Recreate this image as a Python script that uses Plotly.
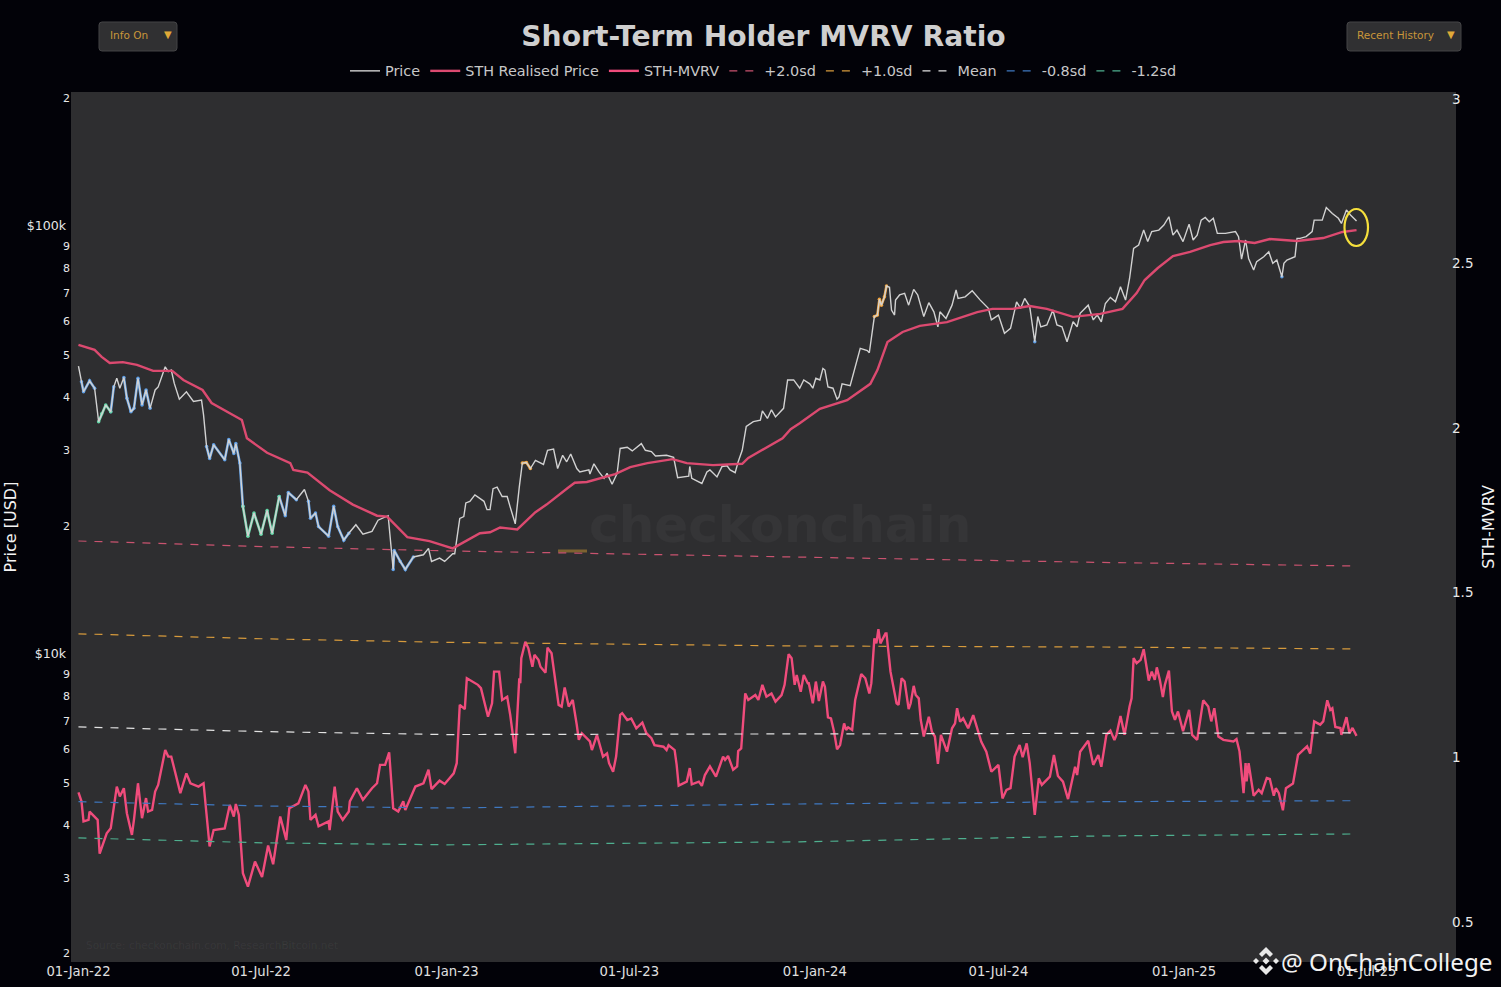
import pandas as pd
import plotly.graph_objects as go

START = pd.Timestamp("2022-01-01")

# STH-MVRV: day offset from 01-Jan-22 and ratio
mvrv_days = [0,3,5,10,11,16,19,21,25,28,32,35,38,41,45,48,53,55,59,63,67,69,73,76,79,86,89,92,96,101,107,111,119,124,130,134,145,150,154,156,159,163,168,175,182,188,193,200,206,209,218,225,228,230,235,238,248,249,254,257,262,268,269,276,282,291,296,299,304,308,312,317,322,324,334,342,347,350,358,363,372,375,378,383,385,396,399,406,410,412,417,420,425,428,433,437,
438,439,443,446,450,452,456,458,463,465,469,471,476,479,482,486,490,494,496,499,507,509,514,520,524,526,530,533,537,539,544,548,553,559,563,568,571,580,583,585,591,593,595,603,606,608,615,618,621,626,632,639,641,644,649,653,654,657,661,664,671,674,678,682,687,691,697,700,704,707,710,712,716,719,723,
724,728,731,734,738,740,743,746,749,752,755,759,761,763,767,770,776,780,784,786,789,791,793,795,800,801,805,809,811,813,816,819,823,825,828,830,833,835,838,843,846,849,852,855,861,866,869,871,874,877,882,887,892,895,900,905,912,916,920,924,928,933,936,940,943,948,952,955,963,967,971,976,981,988,990,993,1001,1006,1011,1014,1019,1023,1027,1029,1033,1037,
1042,1044,1046,1049,1053,1056,1061,1064,1067,1069,1072,1075,1077,1081,1084,1087,1090,1095,1101,1104,1109,1115,1120,1123,1126,1130,1135,1145,1148,1151,1155,1157,1158,1160,1165,1170,1173,1178,1181,1185,1187,1190,1194,1197,1204,1209,1218,1221,1225,1231,1234,1238,1241,1243,1246,1251,1252,1257,1260,1263,1267]
mvrv_values = [0.893,0.866,0.805,0.810,0.835,0.820,0.810,0.707,0.739,0.769,0.784,0.850,0.911,0.881,0.906,0.830,0.764,0.810,0.921,0.815,0.876,0.835,0.840,0.896,0.916,1.022,1.002,1.002,0.951,0.891,0.951,0.921,0.911,0.921,0.729,0.779,0.784,0.855,0.820,0.858,0.825,0.648,0.607,0.683,0.636,0.732,0.675,0.820,0.749,0.845,0.860,0.916,0.896,0.810,0.825,0.790,0.805,0.779,0.911,0.835,0.810,0.835,0.866,0.906,0.871,0.906,0.921,0.977,0.977,1.015,0.845,0.835,0.866,0.840,0.911,0.921,0.962,0.903,0.929,0.919,0.951,0.982,1.159,1.146,1.240,1.220,1.210,1.123,1.164,1.260,1.260,1.174,1.184,1.129,1.012,1.240,
1.225,1.301,1.351,1.331,1.275,1.311,1.296,1.275,1.257,1.333,1.316,1.275,1.159,1.154,1.212,1.154,1.174,1.098,1.053,1.073,1.048,1.022,1.068,1.002,1.012,0.982,0.956,1.002,1.129,1.134,1.113,1.118,1.088,1.105,1.073,1.058,1.037,1.032,1.022,1.037,1.022,0.977,0.914,0.926,0.967,0.918,0.926,0.913,0.946,0.972,0.941,1.002,0.992,1.004,0.962,0.972,1.019,1.027,1.194,1.174,1.189,1.174,1.220,1.184,1.194,1.169,1.189,1.220,1.313,1.301,1.220,1.250,1.199,1.250,1.225,
1.225,1.164,1.230,1.171,1.230,1.214,1.121,1.118,1.078,1.024,1.037,1.103,1.083,1.091,1.083,1.174,1.253,1.240,1.194,1.225,1.361,1.346,1.389,1.346,1.376,1.376,1.260,1.199,1.164,1.159,1.240,1.230,1.146,1.164,1.217,1.189,1.179,1.113,1.063,1.123,1.078,1.063,0.980,1.068,1.017,1.088,1.103,1.149,1.108,1.118,1.088,1.128,1.078,1.047,1.017,0.956,0.977,0.875,0.901,0.906,1.002,1.037,1.000,1.042,0.982,0.825,0.936,0.916,0.941,1.007,0.943,0.926,0.873,0.971,0.946,1.017,1.050,0.977,1.007,0.971,1.068,1.081,1.052,1.068,1.125,1.068,
1.154,1.179,1.301,1.286,1.296,1.328,1.233,1.260,1.235,1.273,1.235,1.183,1.220,1.263,1.139,1.114,1.139,1.079,1.144,1.068,1.053,1.173,1.154,1.109,1.149,1.063,1.053,1.048,1.055,1.018,0.891,0.982,0.927,0.982,0.883,0.901,0.891,0.937,0.934,0.883,0.906,0.891,0.839,0.906,0.920,1.007,1.033,1.011,1.109,1.099,1.109,1.173,1.144,1.149,1.092,1.089,1.068,1.122,1.073,1.089,1.065]

# STH realised price in USD thousands
realised_days = [0,16,23,31,44,58,74,93,104,123,132,147,162,167,187,210,213,227,249,272,296,306,326,348,358,371,398,408,418,435,453,464,485,492,504,532,547,564,589,603,629,658,664,698,706,715,735,762,785,792,802,817,834,861,891,906,926,943,960,986,1013,1035,1049,1057,1070,1085,1102,1122,1135,1150,1166,1181,1208,1234,1253,1267]
realised_k = [52.9,51.5,49.6,48.0,48.2,47.5,46.0,46.0,43.8,41.5,38.7,36.9,35.3,32.0,29.6,28.0,27.0,26.6,24.2,22.4,21.1,21.0,18.8,18.4,18.1,17.7,19.2,19.3,19.8,19.6,21.5,22.4,24.5,25.2,25.3,26.4,27.4,28.0,28.6,28.0,27.7,27.9,28.8,32.0,33.6,34.7,37.5,39.3,42.9,46.2,53.7,56.7,58.6,59.8,63.1,64.2,64.2,65.2,64.2,61.5,62.5,64.2,69.9,75.0,80.0,85.3,87.2,90.5,92.0,92.5,91.5,93.5,92.5,94.0,97.1,98.1]

# Price in USD thousands
price_days = [0,3,5,11,16,20,23,27,32,35,38,41,45,48,52,55,59,63,67,71,76,79,86,89,92,95,100,107,114,122,124,127,130,134,145,149,154,156,160,163,168,174,181,187,192,199,205,208,216,224,228,230,235,238,248,253,257,263,268,275,282,291,297,307,312,313,319,324,332,342,347,350,358,363,371,373,378,382,384,388,393,398,402,405,408,411,415,420,425,428,433,437,440,444,448,453,461,465,471,475,480,484,488,494,497,506,507,511,516,521,524,529,534,537,544,549,558,562,568,572,583,590,594,605,606,608,618,623,626,633,638,643,646,651,654,658,662,669,676,678,683,687,691,699,703,709,715,719,725,728,731,735,738,740,743,748,752,754,757,765,775,782,784,789,792,794,796,799,801,804,806,809,810,814,819,823,828,832,838,843,848,852,854,860,866,870,872,879,886,894,902,905,912,918,924,930,934,938,943,948,951,954,960,966,970,975,980,986,990,993,1001,1006,1010,1014,1018,1023,1028,1033,1038,1042,1046,1051,1056,1060,1064,1071,1076,1081,1085,1089,1095,1101,1105,1109,1113,1117,1121,1125,1129,1137,1147,1150,1153,1157,1160,1165,1168,1175,1180,1184,1188,1193,1195,1198,1206,1208,1211,1217,1223,1225,1233,1237,1243,1249,1252,1257,1261,1267]
price_k = [47.2,43.4,41.1,43.6,41.9,35.0,36.5,38.3,36.9,42.2,44.2,41.9,44.4,39.7,36.9,37.6,44.2,38.3,41.5,37.6,41.5,42.2,47.0,45.8,46.2,43.0,39.5,41.1,39.0,39.3,36.3,30.6,28.7,30.9,28.5,31.8,29.5,31.1,28.0,22.2,18.9,21.4,19.1,21.7,19.2,23.4,21.1,23.9,23.0,24.3,22.8,20.8,21.4,19.9,18.9,22.2,19.9,18.5,19.2,20.1,19.1,19.4,20.6,21.1,15.8,17.5,16.5,15.8,16.9,17.1,17.7,16.5,16.8,16.5,17.2,17.2,20.8,21.0,22.6,22.8,23.6,23.2,22.8,21.8,21.8,24.4,24.6,23.4,23.4,22.1,20.2,24.6,28.0,28.1,27.2,28.4,27.8,30.0,30.2,27.2,29.2,28.2,29.4,27.2,26.7,27.0,26.4,27.9,26.7,25.8,26.5,25.0,26.5,30.3,30.5,29.9,31.1,30.0,29.8,29.1,29.2,28.9,25.9,26.1,27.5,25.8,25.1,26.7,27.0,26.0,27.5,27.6,27.0,26.6,28.2,30.0,34.1,35.0,35.3,37.1,35.6,37.3,35.9,37.6,43.8,43.8,41.9,43.8,42.9,41.9,44.2,43.8,46.6,46.2,42.2,41.9,39.5,40.0,42.9,42.5,51.9,51.3,50.7,61.6,62.1,67.6,65.5,68.5,72.6,72.1,63.8,62.1,67.3,69.2,69.8,65.5,71.3,69.2,61.6,66.4,63.2,58.3,63.2,61.0,65.5,71.1,67.9,68.5,70.8,67.3,64.4,60.5,62.1,56.3,57.8,66.7,64.4,67.9,65.0,53.8,61.6,58.3,58.9,63.8,58.9,58.3,53.8,59.9,58.3,62.7,65.5,60.5,62.1,59.9,66.1,68.3,66.7,72.3,67.3,75.6,88.9,90.5,98.1,92.2,97.3,98.1,100.8,105.4,95.5,98.1,92.2,101.3,93.0,95.5,103.5,105.0,102.6,104.5,96.4,96.4,97.3,94.7,83.9,93.0,84.2,79.1,82.8,85.0,87.3,82.0,83.5,76.3,82.0,83.5,85.0,93.8,93.8,94.7,97.3,103.5,103.5,110.8,107.3,104.5,101.7,109.3,106.4,103.0]

# Bands on the STH-MVRV scale
band_days = [0,182,365,715,1012,1267]
band_plus2 = [1.657,1.640,1.627,1.608,1.592,1.581]
band_plus1 = [1.375,1.360,1.349,1.338,1.335,1.329]
band_mean = [1.092,1.078,1.069,1.071,1.074,1.074]
band_minus08 = [0.865,0.852,0.846,0.858,0.865,0.868]
band_minus12 = [0.755,0.740,0.734,0.743,0.761,0.767]

# Stretches of the price line tinted by MVRV regime (day offsets)
blue_spans = [(3,19),(32,35),(45,72),(127,163),(199,217),(228,268),(312,332),(946,950),(1192,1194)]
green_spans = [(19,32),(163,199)]
orange_spans = [(440,448),(788,802)]

PRICE_TICKS = [2000,3000,4000,5000,6000,7000,8000,9000,10000,20000,30000,40000,50000,60000,70000,80000,90000,100000,200000]
PRICE_LABELS = ["2","3","4","5","6","7","8","9",'<span style="font-size:12.6px">$10k&nbsp;</span>',"2","3","4","5","6","7","8","9",'<span style="font-size:12.6px">$100k&nbsp;</span>',"2"]
MVRV_TICKS = [0.5,1,1.5,2,2.5,3]
DATE_TICKS = ["2022-01-01","2022-07-01","2023-01-01","2023-07-01","2024-01-01","2024-07-01","2025-01-01","2025-07-01"]

W, H = 1501, 987
L, R, T, B = 71, 1456, 92, 962


def dates(days):
    return [START + pd.Timedelta(days=int(d)) for d in days]


def px(x):
    return (x - L) / (R - L)


def py(y):
    return (B - y) / (B - T)


def subset(spans):
    xs, ys = [], []
    for a, b in spans:
        for d, p in zip(price_days, price_k):
            if a <= d <= b:
                xs.append(START + pd.Timedelta(days=d))
                ys.append(p * 1000)
        xs.append(None)
        ys.append(None)
    return xs, ys


fig = go.Figure()

for spans, col in ((blue_spans, "#5f9fe6"), (green_spans, "#63d9a8"), (orange_spans, "#f2a33a")):
    xs, ys = subset(spans)
    fig.add_trace(go.Scatter(x=xs, y=ys, mode="lines+markers", showlegend=False, hoverinfo="skip",
                             line=dict(color=col, width=2.6), marker=dict(color=col, size=3.5)))

fig.add_trace(go.Scatter(x=dates(price_days), y=[p * 1000 for p in price_k], name="Price", mode="lines",
                         line=dict(color="#d2d2d2", width=1.4)))
fig.add_trace(go.Scatter(x=dates(realised_days), y=[p * 1000 for p in realised_k], name="STH Realised Price",
                         mode="lines", line=dict(color="#dc4a70", width=2.4)))
fig.add_trace(go.Scatter(x=dates(mvrv_days), y=mvrv_values, name="STH-MVRV", mode="lines", yaxis="y2",
                         line=dict(color="#f04c7c", width=2.4)))

DASH = "8px,8px"
for name, vals, col in (("+2.0sd", band_plus2, "#c9536f"), ("+1.0sd", band_plus1, "#d69a3c"),
                        ("Mean", band_mean, "#e2e2e2"), ("-0.8sd", band_minus08, "#3f78c0"),
                        ("-1.2sd", band_minus12, "#4fb08f")):
    fig.add_trace(go.Scatter(x=dates(band_days), y=vals, name=name, mode="lines", yaxis="y2",
                             line=dict(color=col, width=1.2, dash=DASH)))


def rounded(x0, y0, x1, y1, r=3):
    return (f"M {px(x0 + r):.5f} {py(y0):.5f} L {px(x1 - r):.5f} {py(y0):.5f} Q {px(x1):.5f} {py(y0):.5f} {px(x1):.5f} {py(y0 + r):.5f} "
            f"L {px(x1):.5f} {py(y1 - r):.5f} Q {px(x1):.5f} {py(y1):.5f} {px(x1 - r):.5f} {py(y1):.5f} "
            f"L {px(x0 + r):.5f} {py(y1):.5f} Q {px(x0):.5f} {py(y1):.5f} {px(x0):.5f} {py(y1 - r):.5f} "
            f"L {px(x0):.5f} {py(y0 + r):.5f} Q {px(x0):.5f} {py(y0):.5f} {px(x0 + r):.5f} {py(y0):.5f} Z")


# Binance-style mark, in picture pixels
cx, cy = 1266, 961
logo = [
    [(0, -14), (7, -7), (4, -4), (0, -8), (-4, -4), (-7, -7)],
    [(0, 14), (7, 7), (4, 4), (0, 8), (-4, 4), (-7, 7)],
    [(0, -3.5), (3.5, 0), (0, 3.5), (-3.5, 0)],
    [(-10, -3), (-7, 0), (-10, 3), (-13, 0)],
    [(10, -3), (13, 0), (10, 3), (7, 0)],
]
shapes = []
for poly in logo:
    path = "M " + " L ".join(f"{px(cx + a):.5f} {py(cy + b):.5f}" for a, b in poly) + " Z"
    shapes.append(dict(type="path", xref="paper", yref="paper", path=path, fillcolor="#e8e8e8", line=dict(width=0)))
shapes.append(dict(type="circle", xref="paper", yref="paper", x0=px(1344.5), x1=px(1368), y0=py(246), y1=py(209),
                   line=dict(color="#f5df3c", width=2.2), fillcolor="rgba(0,0,0,0)"))
# small brown smudge sitting on the +2.0sd band
shapes.append(dict(type="rect", xref="paper", yref="paper", x0=px(558), x1=px(587), y0=py(552.5), y1=py(549.5),
                   fillcolor="#7d6230", line=dict(width=0), layer="below"))
for x0, x1 in ((99, 177), (1347, 1461)):
    shapes.append(dict(type="path", xref="paper", yref="paper", path=rounded(x0, 22, x1, 51),
                       fillcolor="#303032", line=dict(color="#454547", width=1)))

annotations = [
    dict(text="<b>checkonchain</b>", xref="paper", yref="paper", x=px(780), y=py(525), showarrow=False, yanchor="middle",
         font=dict(family="DejaVu Sans", size=50, color="rgba(255,255,255,0.035)")),
    dict(text="Source: checkonchain.com, ResearchBitcoin.net", xref="paper", yref="paper", x=px(84), y=py(945),
         xanchor="left", yanchor="middle", showarrow=False,
         font=dict(family="DejaVu Sans", size=10.5, color="rgba(255,255,255,0.06)")),
    dict(text="@ OnChainCollege", xref="paper", yref="paper", x=px(1494), y=py(961), xanchor="right", yanchor="middle",
         showarrow=False, font=dict(family="Noto Sans", size=24.2, color="#f2f2f2")),
]
BTN = dict(xref="paper", yref="paper", showarrow=False, yanchor="middle", xanchor="left")
annotations += [
    dict(BTN, text="Info On", x=px(107.5), y=py(35.5), font=dict(family="DejaVu Sans", size=10.5, color="#c9963a")),
    dict(BTN, text="▼", x=px(162), y=py(35), font=dict(family="DejaVu Sans", size=10, color="#dfa838")),
    dict(BTN, text="Recent History", x=px(1355), y=py(35.5), font=dict(family="DejaVu Sans", size=10.5, color="#c9963a")),
    dict(BTN, text="▼", x=px(1445), y=py(35), font=dict(family="DejaVu Sans", size=10, color="#dfa838")),
]

fig.update_layout(
    width=W, height=H,
    margin=dict(l=L, r=W - R, t=T, b=H - B, pad=0, autoexpand=False),
    paper_bgcolor="#020208",
    plot_bgcolor="#2e2e30",
    font=dict(family="DejaVu Sans", color="#e6e6e6", size=13),
    title=dict(text="<b>Short-Term Holder MVRV Ratio</b>", x=763.5 / W, xanchor="center", y=1 - 36 / H, yanchor="middle",
               font=dict(family="DejaVu Sans", size=28.2, color="#cfcfcf")),
    legend=dict(orientation="h", x=0.5, xanchor="center", y=py(55), yanchor="top", bgcolor="rgba(0,0,0,0)",
                font=dict(size=14.4, color="#c8c8c8"), itemwidth=30, traceorder="normal"),
    xaxis=dict(type="date", range=[START + pd.Timedelta(days=-7.4), START + pd.Timedelta(days=1365.6)],
               tickmode="array", tickvals=DATE_TICKS, tickformat="%d-%b-%y", showgrid=False, zeroline=False,
               ticks="", tickfont=dict(size=13.2, color="#e0e0e0"), showline=False),
    yaxis=dict(type="log", range=[3.2815, 5.3143], tickmode="array", tickvals=PRICE_TICKS, ticktext=PRICE_LABELS,
               showgrid=False, zeroline=False, ticks="", tickfont=dict(size=11, color="#e8e8e8"),
               title=dict(text="Price [USD]", font=dict(size=16, color="#f4f4f4"), standoff=6), automargin=False),
    yaxis2=dict(overlaying="y", side="right", range=[0.378, 3.021], tickmode="array", tickvals=MVRV_TICKS,
                ticktext=[f"{t:g}" for t in MVRV_TICKS], showgrid=False, zeroline=False, ticks="", ticklen=0,
                tickfont=dict(size=13.5, color="#e8e8e8"), ticklabelstandoff=-5,
                title=dict(text="STH-MVRV", font=dict(size=16, color="#f4f4f4"), standoff=10), automargin=False),
    shapes=shapes,
    annotations=annotations,
)

fig.write_html("out.html", config={"displayModeBar": False},
               post_script="document.body.style.margin='0';document.body.style.overflow='hidden';")
